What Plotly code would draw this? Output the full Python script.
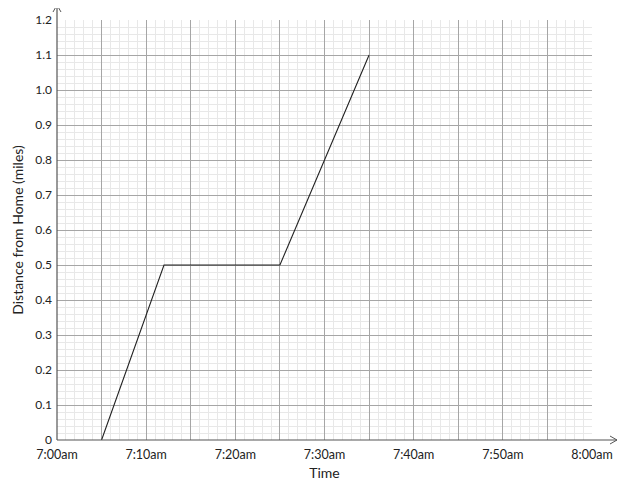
import plotly.graph_objects as go

# Data
times = ["07:05", "07:12", "07:25", "07:35"]
distance = [0, 0.5, 0.5, 1.1]

x_tick_times = ["07:00", "07:05", "07:10", "07:15", "07:20", "07:25", "07:30",
                "07:35", "07:40", "07:45", "07:50", "07:55", "08:00"]
x_tick_labels = ["7:00am", "", "7:10am", "", "7:20am", "", "7:30am",
                 "", "7:40am", "", "7:50am", "", "8:00am"]
y_tick_vals = [0, 0.1, 0.2, 0.3, 0.4, 0.5, 0.6, 0.7, 0.8, 0.9, 1.0, 1.1, 1.2]
y_tick_labels = ["0", "0.1", "0.2", "0.3", "0.4", "0.5", "0.6", "0.7", "0.8",
                 "0.9", "1.0", "1.1", "1.2"]

day = "2000-01-01 "
xs = [day + t for t in times]
xtv = [day + t for t in x_tick_times]

FONT = "Lato, Open Sans, sans-serif"
MAJOR = "#a6a6a6"
MINOR = "#e8e8e8"
AXIS = "#555555"

fig = go.Figure()
fig.add_trace(go.Scatter(x=xs, y=distance, mode="lines",
                         line=dict(color="#222222", width=1.1),
                         showlegend=False, hoverinfo="skip"))

# page body adds an 8px margin, so the figure is sized/placed to compensate
fig.update_layout(
    width=622, height=475,
    margin=dict(l=49, r=38, t=12, b=43),
    plot_bgcolor="white", paper_bgcolor="white",
    font=dict(family=FONT, size=12, color="#222222"),
    xaxis=dict(
        type="date", automargin=False,
        range=[day + "07:00", day + "08:00"],
        tickmode="array", tickvals=xtv, ticktext=x_tick_labels,
        showgrid=True, gridcolor=MAJOR, gridwidth=1,
        minor=dict(tickmode="linear", tick0=day + "07:00", dtick=60000,
                   showgrid=True, gridcolor=MINOR, gridwidth=1),
        showline=False, zeroline=False, ticks="", ticklabelstandoff=5,
        title=dict(text="Time", font=dict(size=14), standoff=7),
        tickfont=dict(size=12.5),
    ),
    yaxis=dict(
        automargin=False,
        range=[0, 1.2],
        tickmode="array", tickvals=y_tick_vals, ticktext=y_tick_labels,
        showgrid=True, gridcolor=MAJOR, gridwidth=1,
        minor=dict(tickmode="linear", tick0=0, dtick=0.02,
                   showgrid=True, gridcolor=MINOR, gridwidth=1),
        showline=False, zeroline=False, ticks="", ticklabelstandoff=4,
        title=dict(text="Distance from Home (miles)", font=dict(size=14), standoff=8),
        tickfont=dict(size=12),
    ),
)

# Axis lines extended beyond plot with open arrowheads (paper coords)
pw, ph = 535, 420  # plot width/height in px
x_end = 1 + 25 / pw
y_end = 1 + 15 / ph
shapes = [
    dict(type="line", xref="paper", yref="paper", x0=0, y0=0, x1=x_end, y1=0,
         line=dict(color=AXIS, width=1.2)),
    dict(type="line", xref="paper", yref="paper", x0=0, y0=0, x1=0, y1=y_end,
         line=dict(color=AXIS, width=1.2)),
    dict(type="path", xref="paper", yref="paper",
         path=f"M {x_end - 7/pw} {4/ph} L {x_end} 0 L {x_end - 7/pw} {-4/ph}",
         line=dict(color=AXIS, width=1)),
    dict(type="path", xref="paper", yref="paper",
         path=f"M {-4/pw} {y_end - 7/ph} L 0 {y_end} L {4/pw} {y_end - 7/ph}",
         line=dict(color=AXIS, width=1)),
]
fig.update_layout(shapes=shapes)

fig.write_html("out.html")
